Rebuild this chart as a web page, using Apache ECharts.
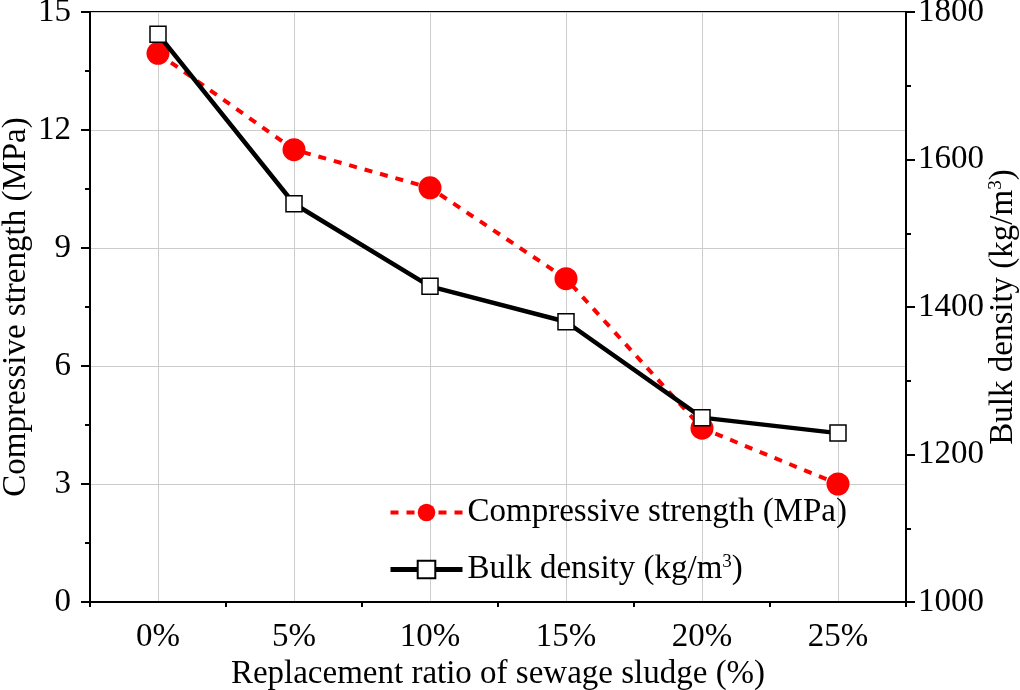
<!DOCTYPE html>
<html>
<head>
<meta charset="utf-8">
<script src="https://cdn.jsdelivr.net/npm/echarts@6/dist/echarts.min.js"></script>
<style>
  html, body { margin: 0; padding: 0; background: #fff; }
  #chart { width: 1020px; height: 690px; }
</style>
</head>
<body>
<div id="chart"></div>
<script>
// 数据
var categories = ['0%', '5%', '10%', '15%', '20%', '25%'];
var strength = [13.95, 11.5, 10.53, 8.22, 4.42, 3.0];      // MPa
var density = [1770, 1540, 1428, 1380, 1250, 1229];       // kg/m3

var FONT = '"Liberation Serif", "DejaVu Serif", serif';
var FS = 33;
var supStyle = { fontFamily: FONT, fontSize: 19, verticalAlign: 'top', padding: [0, 0, 14, 0] };

var myChart = echarts.init(document.getElementById('chart'));
var option = {
    backgroundColor: '#fff',
    textStyle: { fontFamily: FONT, color: '#000' },
    grid: {
        left: 90, right: 114, top: 12, bottom: 88,
        outerBoundsMode: 'none',
        containLabel: false,
        show: true, borderColor: '#000', borderWidth: 2
    },
    legend: {
        orient: 'vertical',
        left: 383, top: 491,
        itemWidth: 72, itemHeight: 22,
        itemGap: 24,
        textStyle: { fontFamily: FONT, fontSize: FS, color: '#000', rich: { sup: supStyle } },
        data: [
            { name: 'Compressive strength (MPa)', lineStyle: { width: 4 } },
            { name: 'Bulk density (kg/m{sup|3})', lineStyle: { width: 5 } }
        ]
    },
    xAxis: [
        {
            type: 'category',
            data: categories,
            boundaryGap: true,
            name: 'Replacement ratio of sewage sludge (%)',
            nameLocation: 'middle',
            nameGap: 56,
            nameMoveOverlap: false,
            nameTextStyle: { fontFamily: FONT, fontSize: FS, color: '#000' },
            axisLine: { lineStyle: { color: '#000', width: 2 } },
            axisTick: { alignWithLabel: true, length: 9, lineStyle: { width: 2, color: '#000' } },
            axisLabel: { fontFamily: FONT, fontSize: FS, color: '#000', margin: 19 },
            splitLine: { show: true, alignWithLabel: true, lineStyle: { color: '#cccccc', width: 1 } }
        },
        {
            // 中间的小刻度
            type: 'category',
            data: categories,
            boundaryGap: true,
            position: 'bottom',
            offset: 0,
            axisLine: { show: true, onZero: false, lineStyle: { color: '#000', width: 2 } },
            axisTick: { show: true, alignWithLabel: false, length: 5, lineStyle: { width: 2, color: '#000' } },
            axisLabel: { show: false },
            splitLine: { show: false }
        }
    ],
    yAxis: [
        {
            type: 'value',
            min: 0, max: 15, interval: 3,
            name: 'Compressive strength (MPa)',
            nameLocation: 'middle',
            nameGap: 57,
            nameMoveOverlap: false,
            nameTextStyle: { fontFamily: FONT, fontSize: FS, color: '#000' },
            axisLine: { show: true, lineStyle: { color: '#000', width: 2 } },
            axisTick: { show: true, length: 9, lineStyle: { width: 2, color: '#000' } },
            minorTick: { show: true, splitNumber: 2, length: 5, lineStyle: { width: 2, color: '#000' } },
            axisLabel: { fontFamily: FONT, fontSize: FS, color: '#000', margin: 19 },
            splitLine: { show: true, lineStyle: { color: '#cccccc', width: 1 } }
        },
        {
            type: 'value',
            min: 1000, max: 1800, interval: 200,
            position: 'right',
            name: 'Bulk density (kg/m{sup|3})',
            nameLocation: 'middle',
            nameGap: 81,
            nameMoveOverlap: false,
            nameTextStyle: {
                fontFamily: FONT, fontSize: FS, color: '#000',
                rich: { sup: supStyle }
            },
            axisLine: { show: true, lineStyle: { color: '#000', width: 2 } },
            axisTick: { show: true, length: 9, lineStyle: { width: 2, color: '#000' } },
            minorTick: { show: true, splitNumber: 2, length: 5, lineStyle: { width: 2, color: '#000' } },
            axisLabel: {
                fontFamily: FONT, fontSize: FS, color: '#000', margin: 12,
                formatter: function(v) { return String(v); }
            },
            splitLine: { show: false }
        }
    ],
    series: [
        {
            name: 'Compressive strength (MPa)',
            type: 'line',
            xAxisIndex: 0, yAxisIndex: 0,
            data: strength,
            symbol: 'circle',
            symbolSize: 23,
            itemStyle: { color: '#ff0000' },
            lineStyle: { color: '#ff0000', width: 4, type: [8, 8] },
            z: 2
        },
        {
            name: 'Bulk density (kg/m{sup|3})',
            type: 'line',
            xAxisIndex: 0, yAxisIndex: 1,
            data: density,
            symbol: 'rect',
            symbolSize: 16,
            showAllSymbol: true,
            itemStyle: { color: '#fff', borderColor: '#000', borderWidth: 1.5 },
            lineStyle: { color: '#000', width: 4.5 },
            z: 3
        }
    ]
};
myChart.setOption(option);
</script>
</body>
</html>
